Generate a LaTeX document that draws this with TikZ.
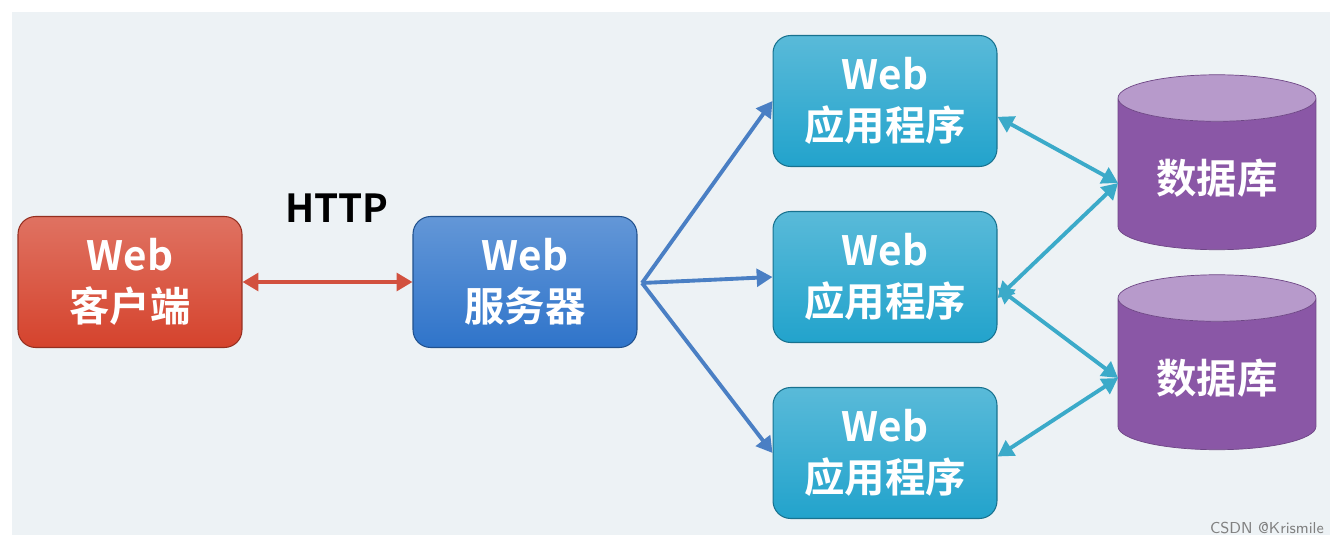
\documentclass[tikz,border=0pt]{standalone}
\usepackage{fontspec}
\newfontfamily\cjk{Noto Sans CJK SC Bold}
\usetikzlibrary{shapes.geometric,arrows.meta}
\definecolor{bgc}{HTML}{EDF2F5}
\definecolor{redc}{HTML}{D5432D}
\definecolor{bluec}{HTML}{2F74CA}
\definecolor{cyanc}{HTML}{22A3CC}
\definecolor{purc}{HTML}{8A57A6}
\definecolor{purtop}{HTML}{B79ACB}
\definecolor{redl}{HTML}{D2513F}
\definecolor{bluel}{HTML}{4A7FC4}
\definecolor{cyanl}{HTML}{3BAAC9}
\tikzset{
 box/.style={rounded corners=10pt, minimum width=4.48cm, minimum height=2.62cm, text=white, align=center, font=\cjk\fontsize{23}{29}\selectfont, draw=#1!70!black, line width=0.6pt, top color=#1!75!white, bottom color=#1},
 db/.style={cylinder, shape border rotate=90, aspect=0.35, minimum width=3.96cm, minimum height=3.5cm, cylinder uses custom fill, cylinder body fill=purc, cylinder end fill=purtop, draw=purc!80!black, text=white, font=\cjk\fontsize{23}{29}\selectfont},
 conn/.style={line width=2.2pt, draw=#1, {Triangle[length=9pt,width=10pt]}-{Triangle[length=9pt,width=10pt]}},
 oneway/.style={line width=2.2pt, draw=#1, -{Triangle[length=9pt,width=10pt]}}
}
\begin{document}
\begin{tikzpicture}[x=0.02cm,y=-0.02cm]
\useasboundingbox (0,0) rectangle (1343,544);
\fill[bgc] (12,12) rectangle (1330,535);
\node[box=redc] (cl) at (130,282) {Web\\客户端};
\node[box=bluec] (sv) at (525,282) {Web\\服务器};
\node[box=cyanc] (a1) at (885,101) {Web\\应用程序};
\node[box=cyanc] (a2) at (885,277) {Web\\应用程序};
\node[box=cyanc] (a3) at (885,453) {Web\\应用程序};
\node[db] (d1) at (1217,178) {数据库};
\node[db] (d2) at (1217,378) {数据库};
\node[font=\cjk\fontsize{22}{26}\selectfont] (h) at (337,208) {HTTP};
\draw[conn=redl] (cl.east) -- (sv.west);
\coordinate (sp) at (642,283);
\draw[oneway=bluel] (sp) -- (a1.west);
\draw[oneway=bluel] (sp) -- (a2.west);
\draw[oneway=bluel] (sp) -- (a3.west);
\coordinate (d1w) at (1118,183);
\coordinate (d2w) at (1118,378);
\draw[conn=cyanl] ([yshift=-9]a1.east) -- (d1w);
\draw[conn=cyanl] ([yshift=-12]a2.east) -- (d1w);
\draw[conn=cyanl] ([yshift=-6]a2.east) -- (d2w);
\draw[conn=cyanl] ([yshift=-2]a3.east) -- (d2w);
\node[font=\sffamily\fontsize{9}{10}\selectfont, text=gray, anchor=east] (wm) at (1330,528) {CSDN @Krismile};
\end{tikzpicture}
\end{document}
